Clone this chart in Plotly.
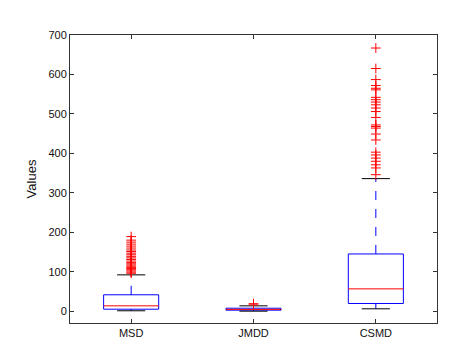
import plotly.graph_objects as go

categories = ["MSD", "JMDD", "CSMD"]
positions = [1, 2, 3]
q1 = [5, 2.5, 19.5]
median = [13.5, 4.5, 56.5]
q3 = [41.5, 7.5, 145]
lower_whisker = [1, 0, 6]
upper_whisker = [92, 13.5, 336]
outliers = [
    [96, 99, 102, 105, 108, 111, 114, 117, 120, 123, 127, 131, 135, 139, 143,
     147, 151, 155, 160, 165, 170, 175, 180, 189],
    [16, 19],
    [346, 363, 371, 380, 388, 396, 403, 434, 449, 464, 468, 472, 491, 506,
     515, 523, 530, 536, 542, 561, 565, 572, 587, 615, 667],
]
y_ticks = [0, 100, 200, 300, 400, 500, 600, 700]

BOX_HALF = 0.225
CAP_HALF = 0.115

fig = go.Figure()

# boxes (blue outlines)
bx, by = [], []
for p, a, b in zip(positions, q1, q3):
    bx += [p - BOX_HALF, p + BOX_HALF, p + BOX_HALF, p - BOX_HALF, p - BOX_HALF, None]
    by += [a, a, b, b, a, None]
fig.add_trace(go.Scatter(x=bx, y=by, mode="lines",
                         line=dict(color="#0000ff", width=1),
                         showlegend=False, hoverinfo="skip"))

# whiskers (dashed)
wx, wy = [], []
for p, a, b, lo, hi in zip(positions, q1, q3, lower_whisker, upper_whisker):
    wx += [p, p, None, p, p, None]
    wy += [b, hi, None, lo, a, None]
fig.add_trace(go.Scatter(x=wx, y=wy, mode="lines",
                         line=dict(color="#0000ff", width=1, dash="dash"),
                         showlegend=False, hoverinfo="skip"))

# caps
cx, cy = [], []
for p, lo, hi in zip(positions, lower_whisker, upper_whisker):
    cx += [p - CAP_HALF, p + CAP_HALF, None, p - CAP_HALF, p + CAP_HALF, None]
    cy += [hi, hi, None, lo, lo, None]
fig.add_trace(go.Scatter(x=cx, y=cy, mode="lines",
                         line=dict(color="black", width=1),
                         showlegend=False, hoverinfo="skip"))

# medians
mx, my = [], []
for p, m in zip(positions, median):
    mx += [p - BOX_HALF, p + BOX_HALF, None]
    my += [m, m, None]
fig.add_trace(go.Scatter(x=mx, y=my, mode="lines",
                         line=dict(color="#ff0000", width=1),
                         showlegend=False, hoverinfo="skip"))

# outliers
ox, oy = [], []
for p, vals in zip(positions, outliers):
    ox += [p] * len(vals)
    oy += vals
fig.add_trace(go.Scatter(x=ox, y=oy, mode="markers",
                         marker=dict(symbol="cross-thin", size=7,
                                     line=dict(color="#ff0000", width=1)),
                         showlegend=False, hoverinfo="skip"))

fig.update_layout(
    width=474, height=355,
    margin=dict(l=62, r=45, t=27, b=40),
    plot_bgcolor="white", paper_bgcolor="white",
    font=dict(family="Liberation Sans, Arial, sans-serif", size=11, color="#111111"),
)
fig.update_xaxes(
    range=[0.5, 3.5], tickvals=positions, ticktext=categories,
    showgrid=False, zeroline=False, showline=True, linecolor="#333333",
    linewidth=1, mirror="allticks", ticks="inside", ticklen=4,
    tickcolor="#333333",
)
fig.update_yaxes(
    range=[-30, 700], tickvals=y_ticks, showgrid=False, zeroline=False,
    showline=True, linecolor="#333333", linewidth=1, mirror="allticks",
    ticks="inside", ticklen=4, tickcolor="#333333",
    title=dict(text="Values", standoff=8),
)

fig.write_html("out.html")
